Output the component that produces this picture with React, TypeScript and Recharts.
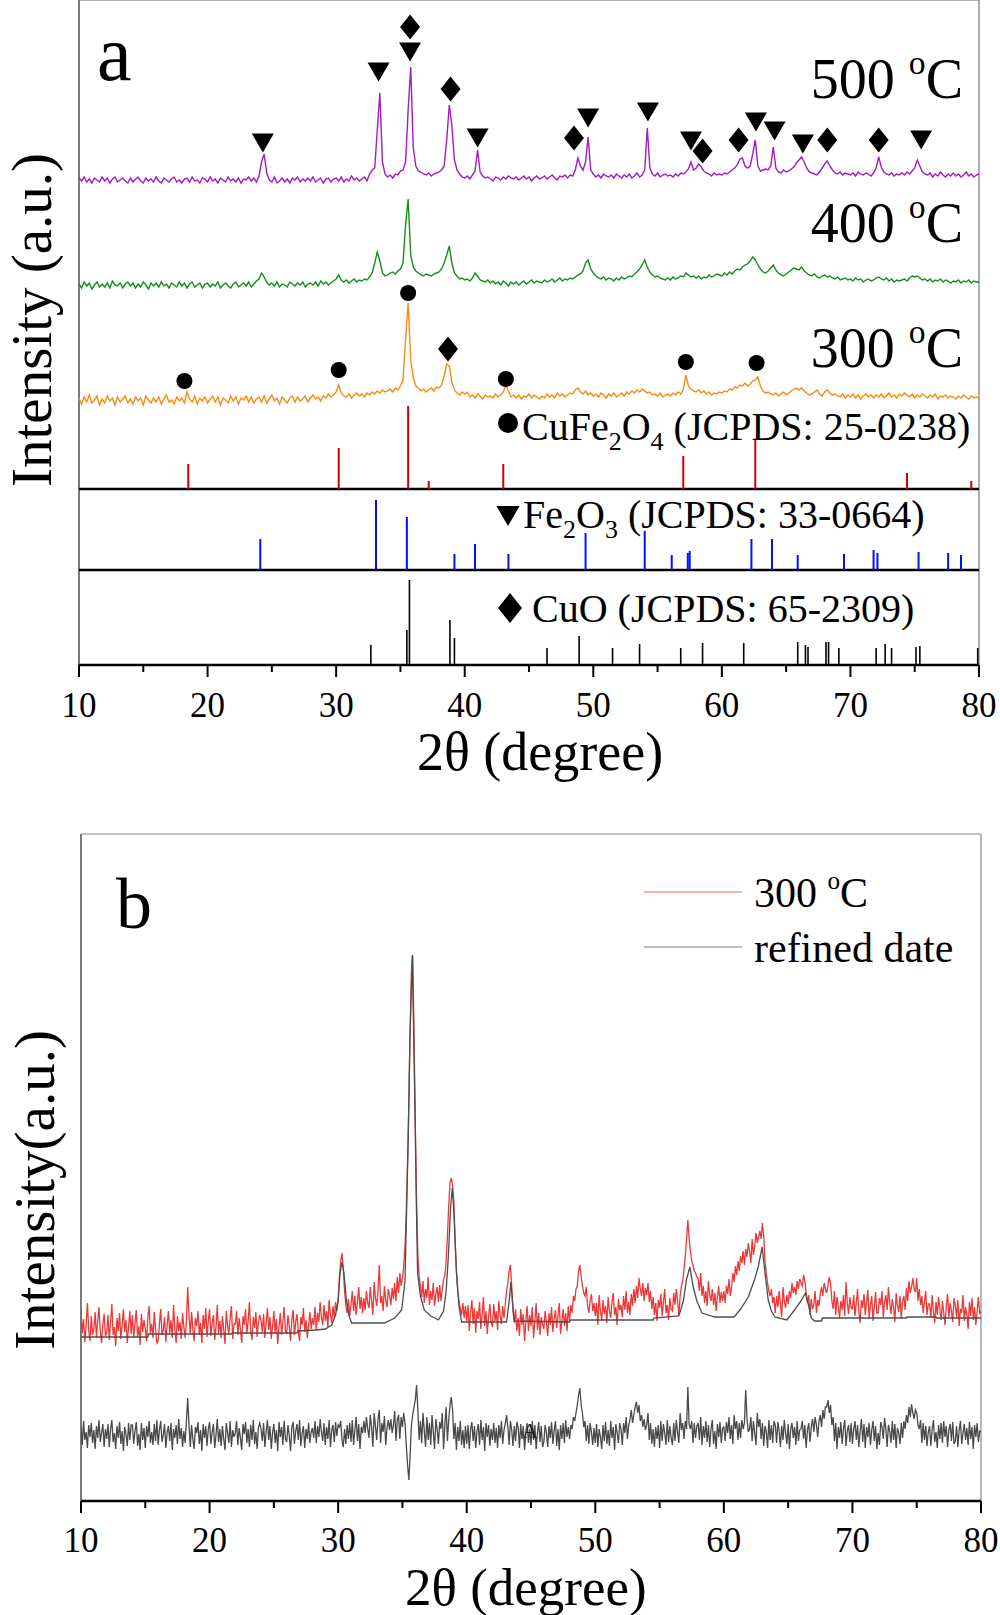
import React from 'react';
import { ComposedChart, Line, XAxis, YAxis, ReferenceLine, ReferenceDot } from 'recharts';

const FONT = "'Liberation Serif', 'Times New Roman', serif";

// 2θ grids: 10° → 80°, 0.2° steps for panel a scans, 0.1° steps for the refined scan
const THETA_START = 10;
const STEP_A = 0.2;
const STEP_B = 0.1;
const thetaAt = (i: number, step: number) => Math.round((THETA_START + i * step) * 10) / 10;

const xTicks = [10, 15, 20, 25, 30, 35, 40, 45, 50, 55, 60, 65, 70, 75, 80];

// ---------- panel a: patterns (counts above each pattern's own baseline) ----------
const xrd500 = [
  2, -1, 3, -2, 1, -3, 2, 0, -2, 3,
  -1, 2, -3, 1, 3, -2, 0, 2, -1, -3,
  2, -2, 1, 3, -1, -3, 2, -1, 1, -2,
  3, -1, -3, 2, 0, -2, 1, 3, -2, 0,
  -3, 1, 2, -2, 3, -1, 0, -3, 2, 1,
  -2, 3, -1, 1, -3, 2, 0, -2, 3, -1,
  1, -2, 2, -3, 1, 0, 3, -1, 2, -2,
  4, 18, 26, 7, 0, -2, 3, -3, -1, 2,
  -2, 1, -3, 2, 0, 3, -2, 1, -1, 2,
  -1, 3, -2, 0, 2, -3, 1, 2, -2, 1,
  2, -1, 3, -2, 1, -1, 4, 0, 2, -1,
  1, 3, -1, 6, 10, 12, 50, 87, 18, 6,
  3, 5, 2, 6, 5, 9, 10, 18, 70, 113,
  32, 14, 9, 8, 6, 5, 7, 4, 6, 7,
  8, 10, 14, 40, 75, 55, 20, 10, 6, 3,
  2, 4, 1, 5, 9, 30, 8, 4, 2, 3,
  1, -1, 3, 2, 0, 3, 1, 4, 2, 1,
  3, 0, 2, 4, 1, 3, -1, 2, 4, 1,
  2, 4, 1, 3, 5, 2, 0, 4, 3, 5,
  2, 5, 4, 10, 22, 14, 10, 18, 43, 10,
  6, 3, 5, 2, 6, 4, 3, 5, 2, 6,
  4, 2, 5, 3, 6, 2, 4, 7, 3, 5,
  10, 52, 12, 6, 4, 7, 3, 5, 6, 4,
  5, 3, 6, 4, 7, 6, 8, 11, 18, 10,
  12, 16, 13, 9, 7, 6, 4, 7, 5, 6,
  5, 7, 6, 8, 10, 12, 15, 21, 22, 14,
  12, 14, 26, 40, 14, 9, 10, 11, 10, 14,
  33, 12, 8, 7, 10, 8, 9, 11, 13, 17,
  20, 23, 18, 12, 8, 7, 6, 5, 8, 12,
  16, 19, 14, 10, 7, 6, 8, 5, 7, 6,
  5, 7, 4, 8, 6, 5, 7, 6, 4, 7,
  12, 23, 13, 8, 6, 5, 7, 4, 6, 5,
  7, 5, 8, 6, 9, 12, 20, 14, 8, 6,
  5, 7, 3, 6, 4, 8, 5, 3, 6, 4,
  7, 4, 6, 3, 5, 8, 4, 6, 3, 5,
  6,
];

const xrd400 = [
  1, -3, 3, -1, 2, -4, 0, 3, -2, 1,
  -2, 2, -3, 4, 0, -1, 2, -3, 1, 3,
  -1, 2, -3, 1, -2, 3, 0, -4, 2, -1,
  2, -2, 3, -1, 1, -3, 2, 0, -2, 3,
  -1, 2, -3, 1, 3, -2, 0, 2, -3, 1,
  2, -2, 1, -1, 3, -3, 0, 2, -1, -3,
  1, 3, -2, 0, 2, -1, 3, -2, 1, 4,
  6, 12, 8, 3, 0, 2, -1, 3, -2, 1,
  0, -2, 3, 1, -1, 2, 0, 3, -2, 1,
  2, 0, 3, -1, 4, 1, 3, 0, 2, 4,
  6, 10, 5, 3, 5, 2, 4, 6, 3, 5,
  4, 6, 5, 8, 12, 22, 33, 24, 12, 9,
  10, 12, 13, 11, 14, 16, 22, 60, 86, 30,
  18, 14, 12, 10, 9, 11, 10, 9, 11, 12,
  13, 16, 22, 30, 39, 22, 12, 9, 6, 7,
  5, 6, 4, 7, 12, 9, 5, 4, 3, 5,
  2, 4, 1, 3, 0, 4, 2, -1, 3, 1,
  3, 0, 2, 4, 1, 3, 5, 2, 4, 3,
  2, 5, 3, 4, 6, 3, 5, 7, 4, 6,
  5, 7, 6, 8, 10, 11, 14, 22, 25, 16,
  12, 9, 7, 6, 8, 5, 7, 6, 4, 7,
  5, 8, 6, 7, 9, 8, 11, 13, 16, 20,
  25, 18, 13, 10, 8, 9, 7, 6, 5, 7,
  5, 8, 6, 7, 9, 8, 12, 10, 8, 9,
  7, 9, 6, 8, 7, 10, 8, 9, 11, 10,
  9, 12, 10, 13, 11, 14, 16, 15, 18, 20,
  21, 24, 28, 25, 20, 16, 13, 12, 14, 17,
  20, 15, 12, 10, 9, 11, 13, 15, 17, 16,
  15, 18, 14, 12, 10, 9, 11, 8, 7, 9,
  10, 8, 9, 7, 6, 8, 5, 6, 7, 5,
  6, 4, 7, 5, 6, 3, 5, 6, 4, 5,
  7, 8, 6, 5, 7, 4, 6, 3, 5, 4,
  5, 6, 4, 7, 9, 8, 9, 7, 5, 6,
  4, 6, 3, 5, 4, 6, 3, 5, 4, 2,
  4, 3, 5, 2, 4, 3, 5, 2, 4, 3,
  3,
];

const xrd300 = [
  2, -4, 3, -2, 5, -3, 0, 4, -5, 1,
  -3, 4, -1, 2, -5, 3, -2, 1, 4, -3,
  1, -4, 3, -1, 2, -5, 4, 0, -3, 2,
  -2, 3, -4, 1, 5, -2, 0, -4, 3, -1,
  2, -3, 8, 1, -2, 4, -4, 2, -1, 3,
  -3, 1, 4, -2, 3, -5, 2, 0, -3, 4,
  -1, 3, -4, 2, 0, 4, -2, 3, -3, 1,
  3, -2, 4, -3, 1, 5, -1, 2, -4, 3,
  0, -3, 2, 4, -2, 3, -1, 1, 4, -2,
  2, 5, 1, 3, -1, 4, 2, 6, 3, 5,
  8, 15, 7, 4, 3, 6, 2, 5, 7, 4,
  6, 3, 7, 5, 8, 6, 9, 7, 10, 8,
  9, 11, 8, 12, 10, 14, 20, 60, 97, 40,
  22, 14, 12, 9, 11, 8, 10, 12, 9, 13,
  12, 15, 24, 36, 34, 18, 10, 7, 5, 8,
  6, 8, 3, 5, 2, 6, 4, 1, 5, 3,
  4, 2, 6, 3, 5, 8, 15, 9, 3, 5,
  2, 5, 1, 4, 3, 6, 2, 5, 3, 1,
  4, 2, 6, 3, 5, 2, 7, 4, 6, 3,
  5, 7, 6, 10, 12, 8, 6, 9, 5, 7,
  4, 6, 3, 7, 5, 2, 6, 4, 7, 3,
  5, 7, 4, 8, 6, 9, 7, 10, 8, 11,
  9, 7, 8, 5, 6, 4, 7, 3, 5, 6,
  4, 7, 5, 8, 6, 10, 25, 14, 11, 9,
  8, 10, 7, 9, 6, 8, 5, 7, 6, 8,
  7, 9, 8, 11, 10, 13, 12, 15, 14, 17,
  14, 16, 19, 20, 23, 14, 9, 7, 8, 6,
  5, 7, 4, 6, 8, 5, 7, 9, 11, 12,
  10, 12, 9, 7, 5, 6, 8, 10, 6, 4,
  8, 10, 7, 5, 6, 4, 3, 6, 2, 5,
  3, 6, 2, 5, 1, 4, 6, 3, 5, 2,
  5, 3, 6, 2, 4, 7, 3, 5, 2, 6,
  4, 7, 5, 3, 6, 2, 5, 3, 6, 4,
  2, 5, 3, 6, 1, 4, 3, 5, 2, 4,
  3, 1, 4, 2, 5, 3, 1, 4, 2, 3,
  2,
];

// vertical stacking of the three patterns
const OFFSET_500 = 485;
const OFFSET_400 = 380;
const OFFSET_300 = 265;

// reference stick patterns [2θ, relative intensity]
const cuFe2O4Sticks = [
  [18.5, 25], [30.2, 41], [35.6, 83], [37.2, 8], [43.0, 25], [57.0, 33], [62.6, 50], [74.4, 16], [79.4, 8],
];
const fe2O3Sticks = [
  [24.1, 31], [33.1, 70], [35.5, 53], [39.2, 16], [40.8, 26], [43.4, 16], [49.4, 37], [54.0, 39], [56.1, 15],
  [57.35, 17], [57.5, 19], [62.3, 31], [63.9, 31], [65.9, 15], [69.5, 16], [71.8, 20], [72.1, 17], [75.3, 18],
  [77.6, 17], [78.6, 15],
];
const cuOSticks = [
  [32.7, 20], [35.5, 35], [35.7, 85], [38.85, 45], [39.2, 27], [46.4, 17], [48.9, 29], [51.5, 17], [53.6, 21],
  [56.8, 17], [58.5, 22], [61.7, 22], [65.9, 23], [66.5, 20], [66.7, 18], [68.1, 23], [68.3, 23], [69.1, 17],
  [72.0, 17], [72.7, 21], [73.2, 17], [75.1, 18], [75.4, 19], [79.9, 17],
];
const BASE_CUFE2O4 = 176;
const BASE_FE2O3 = 95;
const BASE_CUO = 0;

// phase markers: [2θ, height, phase]  C = CuFe2O4, H = Fe2O3, O = CuO
const marks500: [number, number, string][] = [
  [24.3, 522, 'H'], [33.3, 593, 'H'], [35.75, 638, 'O'], [35.75, 613, 'H'], [38.9, 576, 'O'], [41.0, 527, 'H'],
  [48.5, 527, 'O'], [49.6, 547, 'H'], [54.25, 553, 'H'], [57.6, 524, 'H'], [58.5, 514, 'O'], [61.3, 525, 'O'],
  [62.65, 543, 'H'], [64.1, 534, 'H'], [66.3, 521, 'H'], [68.2, 525, 'O'], [72.2, 525, 'O'], [75.5, 525, 'H'],
];
const marks300: [number, number, string][] = [
  [18.2, 284, 'C'], [30.2, 295, 'C'], [35.6, 372, 'C'], [38.7, 316, 'O'], [43.2, 286, 'C'], [57.2, 303, 'C'],
  [62.7, 302, 'C'],
];

// ---------- panel b: refinement of the 300 °C pattern (0.1° steps) ----------
const observed300 = [
  190, 168, 182, 159, 176, 198, 171, 160, 185, 166, 172, 189, 163, 180, 194, 170, 158, 177, 187, 165,
  168, 186, 161, 179, 197, 166, 174, 155, 183, 170, 188, 162, 176, 192, 169, 181, 158, 174, 190, 167,
  186, 163, 178, 191, 164, 175, 156, 187, 169, 181, 172, 160, 184, 195, 168, 177, 163, 189, 171, 158,
  160, 177, 192, 166, 171, 184, 159, 176, 190, 168, 181, 163, 196, 172, 158, 185, 170, 179, 162, 188,
  174, 163, 180, 214, 185, 167, 189, 171, 160, 183, 175, 190, 166, 178, 158, 186, 172, 193, 164, 180,
  192, 165, 178, 186, 161, 174, 196, 168, 180, 163, 185, 171, 157, 190, 176, 167, 183, 195, 162, 177,
  177, 190, 166, 183, 172, 158, 185, 176, 192, 167, 180, 199, 170, 161, 184, 173, 189, 164, 178, 186,
  181, 169, 187, 163, 178, 193, 171, 184, 162, 175, 190, 168, 182, 157, 174, 188, 166, 179, 194, 170,
  168, 186, 174, 160, 182, 191, 166, 179, 187, 170, 160, 184, 176, 193, 169, 181, 163, 175, 189, 172,
  183, 176, 194, 171, 188, 179, 199, 184, 176, 196, 180, 190, 174, 201, 186, 178, 195, 183, 199, 190,
  200, 225, 240, 248, 232, 210, 195, 188, 202, 185, 197, 210, 190, 205, 186, 199, 214, 192, 204, 188,
  203, 191, 210, 198, 193, 214, 200, 186, 219, 203, 195, 210, 236, 198, 205, 190, 215, 201, 194, 212,
  206, 196, 213, 202, 218, 200, 224, 208, 228, 215, 222, 235, 255, 290, 340, 400, 470, 530, 546, 470,
  380, 300, 245, 225, 215, 204, 220, 198, 212, 203, 224, 196, 210, 201, 218, 195, 207, 214, 199, 216,
  200, 212, 222, 225, 240, 265, 295, 318, 323, 316, 300, 260, 232, 210, 200, 192, 186, 198, 183, 195,
  180, 196, 170, 188, 201, 177, 193, 168, 190, 182, 199, 172, 186, 204, 175, 190, 167, 184, 197, 179,
  174, 197, 180, 190, 171, 200, 185, 177, 195, 183, 196, 210, 218, 230, 236, 215, 190, 178, 192, 170,
  183, 165, 192, 176, 187, 160, 181, 195, 170, 186, 175, 194, 163, 180, 198, 171, 188, 166, 184, 177,
  172, 190, 178, 165, 188, 176, 194, 169, 182, 191, 173, 186, 198, 167, 180, 192, 175, 188, 170, 195,
  180, 196, 188, 205, 200, 212, 215, 230, 236, 225, 215, 208, 205, 214, 195, 188, 200, 207, 190, 198,
  185, 198, 176, 206, 190, 181, 201, 187, 195, 178, 204, 190, 183, 199, 208, 186, 194, 176, 202, 191,
  196, 184, 205, 191, 210, 188, 199, 186, 207, 195, 212, 198, 215, 203, 223, 212, 205, 218, 200, 213,
  206, 218, 199, 210, 192, 204, 186, 198, 180, 201, 193, 207, 185, 199, 212, 188, 196, 181, 203, 192,
  190, 208, 196, 212, 200, 186, 205, 215, 220, 232, 245, 262, 281, 262, 250, 240, 236, 230, 228, 224,
  222, 210, 228, 205, 215, 198, 210, 195, 220, 206, 200, 212, 196, 208, 190, 204, 215, 198, 209, 200,
  210, 198, 215, 207, 222, 205, 214, 228, 219, 235, 226, 240, 230, 245, 238, 250, 236, 252, 244, 258,
  250, 238, 262, 246, 255, 268, 258, 264, 270, 262, 278, 265, 240, 228, 218, 210, 205, 212, 198, 204,
  188, 205, 194, 210, 198, 184, 214, 200, 193, 206, 197, 210, 203, 218, 208, 214, 206, 220, 212, 222,
  218, 215, 226, 220, 208, 198, 206, 186, 202, 192, 196, 210, 188, 201, 195, 207, 214, 205, 218, 212,
  208, 216, 224, 218, 200, 192, 210, 186, 204, 195, 183, 200, 191, 206, 185, 219, 198, 187, 204, 193,
  192, 206, 185, 198, 212, 190, 178, 201, 193, 207, 186, 199, 211, 183, 196, 205, 180, 194, 209, 188,
  188, 203, 196, 210, 184, 199, 206, 191, 214, 198, 187, 202, 194, 179, 208, 196, 189, 205, 183, 200,
  205, 191, 213, 200, 220, 208, 214, 223, 212, 209, 223, 200, 212, 196, 205, 188, 199, 210, 186, 197,
  197, 183, 206, 190, 178, 199, 186, 204, 192, 181, 200, 188, 176, 195, 207, 184, 198, 190, 179, 203,
  196, 184, 201, 175, 192, 188, 206, 180, 194, 186, 172, 199, 185, 203, 181, 194, 176, 190, 204, 187,
  190,
];

const residual300 = [
  8, -10, 14, -5, 3, -13, 10, -2, 12, -8, 5, -14, 9, -3, 15, -7, 2, 11, -12, 6,
  -4, 11, -12, 6, 15, -7, 2, -14, 9, -3, 13, -9, 4, -16, 8, 1, -11, 12, -5, 10,
  10, -9, 4, 13, -11, 1, -15, 12, -5, 7, -13, 9, -2, 14, -8, 3, -10, 11, -6, 15,
  -10, 5, 14, -7, 0, 11, -13, 3, 9, -6, 12, -15, 6, -3, 10, -9, 16, -4, 7, -12,
  4, -8, 14, 37, 10, -12, 10, -4, -14, 8, 2, 13, -9, 5, -16, 11, -3, 9, -11, 6,
  13, -9, 3, 11, -13, 0, 16, -7, 6, -11, 9, -4, -15, 12, 2, -8, 14, -12, 5, -2,
  2, 14, -10, 7, -3, -15, 11, 1, 13, -8, 6, -12, 10, -5, 15, -9, 3, -14, 8, 12,
  6, -6, 12, -12, 3, 15, -5, 9, -14, 2, 11, -8, 5, -16, 13, -2, 8, -10, 14, -4,
  -7, 10, -1, -16, 8, 13, -9, 4, 11, -5, 15, -11, 2, 9, -13, 6, -4, 12, -8, 3,
  7, -3, 14, -8, 9, -2, 16, 3, -6, 12, -10, 8, -4, 15, -12, 5, 10, -7, 13, -1,
  10, 8, 14, -5, -12, 6, -9, 10, -4, 12, -7, 15, -10, 5, 18, -6, 11, -14, 8, 2,
  14, 2, 18, 6, -3, 20, 8, -12, 22, 9, -5, 16, 25, -8, 12, 3, 19, -10, 7, 15,
  5, 16, 2, 10, 24, -6, 15, 20, -4, 18, 8, 22, 12, -10, -30, -45, -20, 10, 20, 28,
  35, 50, 25, -5, 14, -8, 22, 4, -12, 18, -5, 12, -10, 20, 3, -14, 16, 6, -9, 13,
  6, 22, -14, 10, 28, -6, 15, 30, 38, 25, -4, 12, -15, 8, -6, 14, -10, 5, -13, 9,
  -9, 10, -14, 6, 13, -6, 9, -13, 4, 11, -10, 15, -5, 8, -16, 12, -2, 10, -11, 6,
  -5, 12, -8, 7, -13, 10, -3, 14, -9, 5, 11, 20, 8, -10, 14, 5, -11, 9, -6, 13,
  8, -13, 11, -4, 9, -15, 3, 12, -8, 6, -10, 14, -5, 10, -14, 2, 13, -7, 9, -12,
  -7, 10, 2, -12, 9, -3, 13, -9, 4, 14, -11, 6, -15, 10, -4, 12, -8, 15, -2, 8,
  -4, 10, 6, 18, 14, 22, 30, 40, 47, 30, 22, 8, 14, -6, 10, -9, 12, 3, -10, 7,
  -8, 11, -12, 6, -2, -14, 10, -6, 13, -9, 5, -11, 14, -3, 8, -15, 11, 2, -8, 12,
  6, -10, 12, 2, 18, -4, 10, 15, 25, 12, 20, 28, 33, 22, 30, 14, 20, 8, 16, 5,
  10, 22, -5, 12, -9, 6, -12, 8, -4, 10, -13, 14, -6, 11, 2, -10, 15, -7, 9, -3,
  -10, 12, -6, 15, 3, -8, 22, 5, 12, -4, 14, 6, 48, 10, 6, 14, -8, 12, -3, 9,
  12, -5, 18, -10, 9, -3, 14, -7, 10, -12, 6, 15, -9, 4, -14, 11, -2, 13, -8, 7,
  8, -6, 13, 2, 18, -4, 10, -9, 20, 6, 14, -5, 12, -3, 15, 6, 12, 45, 16, 3,
  6, 18, -6, 14, 2, -10, 22, 8, 16, -4, 12, -11, 9, 3, -13, 15, -5, 10, -8, 14,
  10, -8, 13, 4, -12, 9, -5, 15, 2, -9, 11, -14, 6, 12, -3, 8, -10, 14, -6, 5,
  6, 14, -4, 10, -13, 5, 12, -7, 8, 16, 3, 18, 10, -2, 14, 20, 8, 25, 16, 28,
  28, 35, 22, 30, 10, 18, -6, 12, -14, 8, -3, 13, -9, 6, 15, -11, 4, 10, -7, 12,
  -9, 6, 14, -5, 10, -12, 4, 16, -7, 11, -13, 8, -2, 12, -10, 5, 14, -6, 9, -14,
  2, -10, 13, 8, -4, 17, 6, -12, 10, 4, -8, 14, -5, 11, -13, 7, 2, -9, 12, -3,
  14, 6, 20, 12, 28, 18, 31, 22, 16, 25, 22, 10, 6, 15, -8, 12, -5, 9, -11, 3,
  9, -11, 6, 15, -7, 3, -13, 10, -4, 12, -8, 14, -2, 9, -12, 5, 11, -6, 13, -9,
  -6, 9, -12, 5, 14, -9, 2, 11, -5, 7, -10, 13, -4, 8, -14, 10, -2, 12, -7, 4,
  3,
];
const OFFSET_RESIDUAL = 66;

// refined profile [2θ, intensity]
const refined300: [number, number][] = [
  [10.0, 164], [15.2, 164], [15.25, 167], [21.7, 167], [21.75, 168], [26.8, 168], [26.85, 170], [28.3, 171],
  [29.0, 172], [29.5, 176], [29.8, 186], [30.0, 201], [30.15, 228], [30.3, 239], [30.45, 228], [30.65, 200],
  [30.85, 185], [31.05, 178], [33.6, 178], [34.4, 183], [34.94, 191], [35.2, 220], [35.33, 294], [35.45, 361],
  [35.58, 461], [35.77, 546], [35.97, 394], [36.08, 300], [36.18, 228], [36.4, 205], [36.7, 191], [37.2, 185],
  [37.8, 181], [38.2, 190], [38.4, 210], [38.57, 244], [38.75, 295], [38.88, 313], [39.0, 290], [39.2, 228],
  [39.4, 195], [39.6, 179], [43.1, 179], [43.3, 200], [43.44, 219], [43.55, 200], [43.7, 180], [48.0, 179],
  [48.05, 181], [54.5, 181], [54.55, 183], [56.5, 185], [56.85, 200], [57.1, 222], [57.36, 234], [57.6, 215],
  [57.9, 200], [58.3, 188], [59.3, 184], [60.8, 184], [61.3, 192], [61.9, 204], [62.4, 222], [62.67, 234],
  [62.98, 254], [63.2, 228], [63.45, 201], [63.7, 190], [63.96, 184], [64.9, 181], [65.5, 191], [66.0, 200],
  [66.35, 208], [66.6, 195], [66.8, 183], [67.05, 180], [67.6, 180], [67.65, 183], [74.2, 183], [74.25, 184],
  [76.5, 184], [76.55, 183], [80.0, 183],
];

// ---------- tables ----------
const rowsA = xrd500.map((v, i) => ({
  t: thetaAt(i, STEP_A),
  v500: v + OFFSET_500,
  v400: xrd400[i] + OFFSET_400,
  v300: xrd300[i] + OFFSET_300,
}));
const rowsB = observed300.map((v, i) => ({
  t: thetaAt(i, STEP_B),
  obs: v,
  res: residual300[i] + OFFSET_RESIDUAL,
}));
const rowsRefined = refined300.map(([t, v]) => ({ t, calc: v }));

function makeTick(labelGap: number) {
  return function AxisTick(props: any) {
    const { x, y, payload } = props;
    const major = payload.value % 10 === 0;
    return (
      <g>
        <line x1={x} x2={x} y1={y} y2={y + (major ? 12 : 7)} stroke="#000" strokeWidth={2} />
        {major && (
          <text x={x} y={y + labelGap} textAnchor="middle" fontFamily={FONT} fontSize={35} fill="#000">
            {payload.value}
          </text>
        )}
      </g>
    );
  };
}
const TickA = makeTick(52);
const TickB = makeTick(51);

function glyph(kind: string, cx: number, cy: number, scale = 1) {
  if (kind === 'H') {
    const w = 11 * scale;
    const h = 9.5 * scale;
    return <polygon points={`${cx - w},${cy - h} ${cx + w},${cy - h} ${cx},${cy + h}`} fill="#000" />;
  }
  if (kind === 'O') {
    const w = 10 * scale;
    const h = 12.5 * scale;
    return <polygon points={`${cx},${cy - h} ${cx + w},${cy} ${cx},${cy + h} ${cx - w},${cy}`} fill="#000" />;
  }
  return <circle cx={cx} cy={cy} r={8 * scale} fill="#000" />;
}

const markerShape = (kind: string) => (p: any) => glyph(kind, p.cx, p.cy);

function TempText({ x, y, size, temp, anchor }: { x: number; y: number; size: number; temp: string; anchor: 'start' | 'end' }) {
  return (
    <text x={x} y={y} fontSize={size} fontFamily={FONT} textAnchor={anchor} fill="#000">
      {temp}{' '}
      <tspan fontSize={size * 0.6} dy={-size * 0.42}>o</tspan>
      <tspan dy={size * 0.42}>C</tspan>
    </text>
  );
}

function PanelA() {
  return (
    <ComposedChart width={1000} height={780} margin={{ top: 0, right: 21, bottom: 0, left: 79 }}>
      <XAxis
        dataKey="t"
        type="number"
        domain={[10, 80]}
        ticks={xTicks}
        interval={0}
        tick={TickA}
        tickLine={false}
        tickSize={0}
        tickMargin={0}
        height={115}
        allowDataOverflow
        axisLine={{ stroke: '#000', strokeWidth: 2.5 }}
      />
      <YAxis type="number" domain={[0, 665]} hide allowDataOverflow />
      <ReferenceLine x={10} stroke="#333" strokeWidth={1.3} />
      <ReferenceLine x={80} stroke="#777" strokeWidth={1.2} />
      <ReferenceLine y={665} stroke="#666" strokeWidth={1.2} />
      <ReferenceLine y={BASE_CUFE2O4} stroke="#000" strokeWidth={2.5} />
      <ReferenceLine y={BASE_FE2O3} stroke="#000" strokeWidth={2.5} />
      {cuFe2O4Sticks.map(([t, h], i) => (
        <ReferenceLine key={'c' + i} segment={[{ x: t, y: BASE_CUFE2O4 }, { x: t, y: BASE_CUFE2O4 + h }]} stroke="#d00000" strokeWidth={2} />
      ))}
      {fe2O3Sticks.map(([t, h], i) => (
        <ReferenceLine key={'h' + i} segment={[{ x: t, y: BASE_FE2O3 }, { x: t, y: BASE_FE2O3 + h }]} stroke="#0010ff" strokeWidth={2} />
      ))}
      {cuOSticks.map(([t, h], i) => (
        <ReferenceLine key={'o' + i} segment={[{ x: t, y: BASE_CUO }, { x: t, y: BASE_CUO + h }]} stroke="#000" strokeWidth={1.6} />
      ))}
      <Line data={rowsA} dataKey="v500" type="linear" stroke="#a21cc4" strokeWidth={1.4} dot={false} activeDot={false} isAnimationActive={false} />
      <Line data={rowsA} dataKey="v400" type="linear" stroke="#14901a" strokeWidth={1.4} dot={false} activeDot={false} isAnimationActive={false} />
      <Line data={rowsA} dataKey="v300" type="linear" stroke="#f88c12" strokeWidth={1.4} dot={false} activeDot={false} isAnimationActive={false} />
      {marks500.map(([t, y, k], i) => (
        <ReferenceDot key={'m5' + i} x={t} y={y} r={8} shape={markerShape(k)} />
      ))}
      {marks300.map(([t, y, k], i) => (
        <ReferenceDot key={'m3' + i} x={t} y={y} r={8} shape={markerShape(k)} />
      ))}
    </ComposedChart>
  );
}

function PanelB() {
  return (
    <ComposedChart width={1000} height={835} margin={{ top: 54, right: 19, bottom: 0, left: 81 }}>
      <XAxis
        dataKey="t"
        type="number"
        domain={[10, 80]}
        ticks={xTicks}
        interval={0}
        tick={TickB}
        tickLine={false}
        tickSize={0}
        tickMargin={0}
        height={114}
        allowDataOverflow
        axisLine={{ stroke: '#000', strokeWidth: 2.5 }}
      />
      <YAxis type="number" domain={[0, 667]} hide allowDataOverflow />
      <ReferenceLine x={10} stroke="#333" strokeWidth={1.3} />
      <ReferenceLine x={80} stroke="#888" strokeWidth={1.2} />
      <ReferenceLine y={667} stroke="#888" strokeWidth={1.2} />
      <Line data={rowsB} dataKey="obs" type="linear" stroke="#ee3838" strokeWidth={1.3} dot={false} activeDot={false} isAnimationActive={false} />
      <Line data={rowsRefined} dataKey="calc" type="linear" stroke="#4d4d4d" strokeWidth={1.3} dot={false} activeDot={false} isAnimationActive={false} />
      <Line data={rowsB} dataKey="res" type="linear" stroke="#4a4a4a" strokeWidth={1.3} dot={false} activeDot={false} isAnimationActive={false} />
    </ComposedChart>
  );
}

export default function App() {
  return (
    <div style={{ position: 'absolute', left: 0, top: 0, width: 1000, height: 1615, background: '#fff' }}>
      <div style={{ position: 'absolute', left: 0, top: 0 }}>
        <PanelA />
      </div>
      <div style={{ position: 'absolute', left: 0, top: 780 }}>
        <PanelB />
      </div>
      <svg width={1000} height={1615} style={{ position: 'absolute', left: 0, top: 0, pointerEvents: 'none' }}>
        {/* panel a annotations */}
        <text x={97} y={80} fontSize={78} fontFamily={FONT} fill="#000">a</text>
        <TempText x={963} y={98} size={56} temp="500" anchor="end" />
        <TempText x={963} y={242} size={56} temp="400" anchor="end" />
        <TempText x={963} y={367} size={56} temp="300" anchor="end" />

        {glyph('C', 508, 423, 1.25)}
        <text x={522} y={440} fontSize={40} fontFamily={FONT} fill="#000">
          CuFe<tspan fontSize={26} dy={10}>2</tspan><tspan dy={-10}>O</tspan><tspan fontSize={26} dy={10}>4</tspan>
          <tspan dy={-10}> (JCPDS: 25-0238)</tspan>
        </text>
        {glyph('H', 508, 516, 1.05)}
        <text x={523} y={528} fontSize={40} fontFamily={FONT} fill="#000">
          Fe<tspan fontSize={26} dy={10}>2</tspan><tspan dy={-10}>O</tspan><tspan fontSize={26} dy={10}>3</tspan>
          <tspan dy={-10}> (JCPDS: 33-0664)</tspan>
        </text>
        {glyph('O', 510, 608, 1.2)}
        <text x={532} y={622} fontSize={40} fontFamily={FONT} fill="#000">CuO (JCPDS: 65-2309)</text>

        <text x={417} y={770} fontSize={54} fontFamily={FONT} fill="#000">2θ (degree)</text>
        <text x={51} y={320} fontSize={57} fontFamily={FONT} fill="#000" textAnchor="middle" transform="rotate(-90, 51, 320)">
          Intensity (a.u.)
        </text>

        {/* panel b annotations */}
        <text x={116} y={928} fontSize={72} fontFamily={FONT} fill="#000">b</text>
        <line x1={644} x2={742} y1={892} y2={892} stroke="#f39595" strokeWidth={1.6} />
        <TempText x={754} y={907} size={42} temp="300" anchor="start" />
        <line x1={644} x2={742} y1={947} y2={947} stroke="#a6a6a6" strokeWidth={1.6} />
        <text x={754} y={962} fontSize={42} fontFamily={FONT} fill="#000">refined date</text>
        <text x={522} y={1438} fontSize={22} fontFamily={FONT} fill="#222">A</text>

        <text x={405} y={1605} fontSize={53} fontFamily={FONT} fill="#000">2θ (degree)</text>
        <text x={54} y={1190} fontSize={57} fontFamily={FONT} fill="#000" textAnchor="middle" transform="rotate(-90, 54, 1190)">
          Intensity(a.u.)
        </text>
      </svg>
    </div>
  );
}
